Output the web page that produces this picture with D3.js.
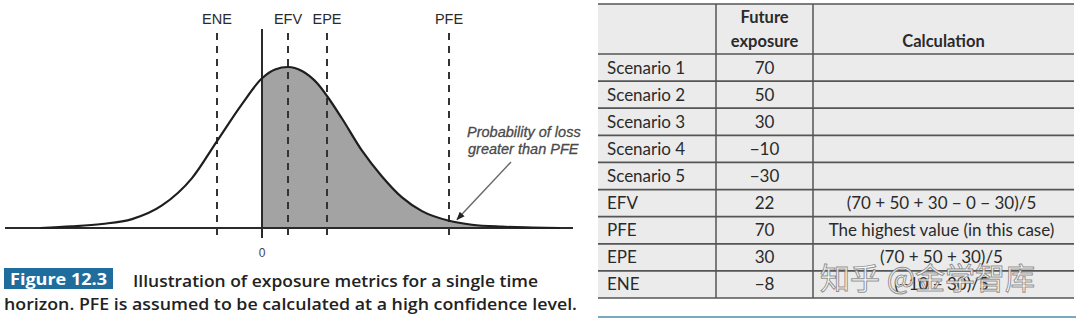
<!DOCTYPE html>
<html>
<head>
<meta charset="utf-8">
<script src="https://cdn.jsdelivr.net/npm/d3@7"></script>
<style>
  body { margin: 0; background: #fff; }
  svg { display: block; }
</style>
</head>
<body>
<svg id="chart" width="1080" height="321"></svg>
<script>
// curve: offset from zero (px-ish units) and height as share of the peak
const curveX = [-222, -190, -160, -130, -100, -70, -45, -20, 0, 13, 26, 40, 55, 65, 80, 100, 120, 140, 160, 187, 210, 240, 270, 298];
const curveY = [0, 0.01, 0.025, 0.055, 0.14, 0.31, 0.54, 0.77, 0.93, 0.985, 1, 0.975, 0.9, 0.82, 0.68, 0.48, 0.32, 0.19, 0.105, 0.045, 0.02, 0.008, 0.003, 0];

const markerNames = ['ENE', 'EFV', 'EPE', 'PFE'];
const markerPos = [-45, 26, 65, 187];

const rowLabels = ['Scenario 1', 'Scenario 2', 'Scenario 3', 'Scenario 4', 'Scenario 5', 'EFV', 'PFE', 'EPE', 'ENE'];
const exposures = [70, 50, 30, -10, -30, 22, 70, 30, -8];
const calcs = ['', '', '', '', '', '(70 + 50 + 30 \u2212 0 \u2212 30)/5', 'The highest value (in this case)', '(70 + 50 + 30)/5', '(\u221210 \u2212 30)/5'];

const svg = d3.select('#chart');
const ink = '#2a2a2a';

// ---- left: distribution ----
const x = d3.scaleLinear().domain([-257, 311]).range([5, 573]);
const y = d3.scaleLinear().domain([0, 1]).range([228, 67]);

const defs = svg.append('defs');
defs.append('clipPath').attr('id', 'leftpanel')
  .append('rect').attr('x', 0).attr('y', 0).attr('width', 581).attr('height', 262);
defs.append('clipPath').attr('id', 'positive')
  .append('rect').attr('x', x(0)).attr('y', 0).attr('width', 600).attr('height', 228);
defs.append('marker').attr('id', 'arrow')
  .attr('viewBox', '0 0 10 10').attr('refX', 9).attr('refY', 5)
  .attr('markerWidth', 6).attr('markerHeight', 6).attr('orient', 'auto')
  .append('path').attr('d', 'M0,1 L10,5 L0,9 z').attr('fill', '#222');

const left = svg.append('g').attr('clip-path', 'url(#leftpanel)');
const pts = curveX.map((v, i) => [v, curveY[i]]);

const area = d3.area().x(d => x(d[0])).y0(y(0)).y1(d => y(d[1])).curve(d3.curveMonotoneX);
const line = d3.line().x(d => x(d[0])).y(d => y(d[1])).curve(d3.curveMonotoneX);

left.append('path').datum(pts).attr('d', area)
  .attr('fill', '#a3a3a3').attr('clip-path', 'url(#positive)');

// baseline
left.append('line').attr('x1', x(-257)).attr('x2', x(311)).attr('y1', y(0)).attr('y2', y(0))
  .attr('stroke', ink).attr('stroke-width', 2);

// zero line
left.append('line').attr('x1', x(0)).attr('x2', x(0)).attr('y1', 29).attr('y2', 238)
  .attr('stroke', ink).attr('stroke-width', 2);
left.append('text').attr('x', x(0)).attr('y', 257).attr('text-anchor', 'middle')
  .attr('font-family', 'Liberation Sans, Arial, sans-serif').attr('font-size', 12).attr('fill', '#444')
  .text('0');

// dashed metric lines
markerPos.forEach((p, i) => {
  left.append('line').attr('x1', x(p)).attr('x2', x(p)).attr('y1', 33).attr('y2', 240)
    .attr('stroke', '#333').attr('stroke-width', 2).attr('stroke-dasharray', '7,6');
  left.append('text').attr('x', x(p)).attr('y', 24).attr('text-anchor', 'middle')
    .attr('font-family', 'Liberation Sans, Arial, sans-serif').attr('font-size', 14.5).attr('fill', ink)
    .text(markerNames[i]);
});

left.append('path').datum(pts).attr('d', line)
  .attr('fill', 'none').attr('stroke', '#1e1e1e').attr('stroke-width', 2.2);

// annotation
const ann = left.append('text').attr('font-family', 'Liberation Sans, Arial, sans-serif')
  .attr('font-style', 'italic').attr('font-size', 14.5).attr('fill', '#4a4a4a')
  .attr('stroke', '#4a4a4a').attr('stroke-width', 0.3);
ann.append('tspan').attr('x', 467).attr('y', 137).text('Probability of loss');
ann.append('tspan').attr('x', 468).attr('y', 154).text('greater than PFE');
left.append('line').attr('x1', 511).attr('y1', 162).attr('x2', x(195)).attr('y2', y(0.04) - 2)
  .attr('stroke', '#666').attr('stroke-width', 1.4).attr('marker-end', 'url(#arrow)');

// caption
svg.append('rect').attr('x', 4).attr('y', 268).attr('width', 109).attr('height', 21).attr('fill', '#1e6d9c');
svg.append('text').attr('x', 10).attr('y', 285).attr('font-family', 'Open Sans, sans-serif')
  .attr('font-weight', 700).attr('font-size', 16).attr('fill', '#fff')
  .attr('textLength', 97).attr('lengthAdjust', 'spacingAndGlyphs').text('Figure 12.3');
svg.append('text').attr('x', 133).attr('y', 287).attr('font-family', 'Open Sans, sans-serif')
  .attr('font-weight', 600).attr('font-size', 17).attr('fill', '#222')
  .attr('textLength', 405).attr('lengthAdjust', 'spacingAndGlyphs')
  .text('Illustration of exposure metrics for a single time');
svg.append('text').attr('x', 4).attr('y', 310).attr('font-family', 'Open Sans, sans-serif')
  .attr('font-weight', 600).attr('font-size', 17).attr('fill', '#222')
  .attr('textLength', 573).attr('lengthAdjust', 'spacingAndGlyphs')
  .text('horizon. PFE is assumed to be calculated at a high confidence level.');

// ---- right: table ----
const tx0 = 598, tx1 = 1074, c1 = 716, c2 = 813;
const tableTop = 4, headBottom = 54;
const rows = d3.scaleBand().domain(rowLabels).range([headBottom, 298]);
const tbl = svg.append('g').attr('font-family', 'Lato, sans-serif').attr('fill', ink);

tbl.append('rect').attr('x', tx0).attr('y', tableTop).attr('width', tx1 - tx0).attr('height', rows.range()[1] - tableTop)
  .attr('fill', '#ebebeb');

const hLines = [tableTop, headBottom].concat(rowLabels.map(r => rows(r) + rows.bandwidth()));
tbl.selectAll('line.h').data(hLines).join('line').attr('class', 'h')
  .attr('x1', tx0).attr('x2', tx1).attr('y1', d => d).attr('y2', d => d)
  .attr('stroke', '#555').attr('stroke-width', 1.7);
tbl.selectAll('line.v').data([c1, c2]).join('line').attr('class', 'v')
  .attr('x1', d => d).attr('x2', d => d).attr('y1', tableTop).attr('y2', rows.range()[1])
  .attr('stroke', '#555').attr('stroke-width', 1.5);

const headSize = 16.5, cellSize = 17;
tbl.append('text').attr('x', (c1 + c2) / 2).attr('y', 23).attr('text-anchor', 'middle')
  .attr('font-weight', 700).attr('font-size', headSize).text('Future');
tbl.append('text').attr('x', (c1 + c2) / 2).attr('y', 47).attr('text-anchor', 'middle')
  .attr('font-weight', 700).attr('font-size', headSize).text('exposure');
tbl.append('text').attr('x', (c2 + tx1) / 2).attr('y', 47).attr('text-anchor', 'middle')
  .attr('font-weight', 700).attr('font-size', headSize).text('Calculation');

const fmt = v => (v < 0 ? '\u2212' + Math.abs(v) : String(v));
rowLabels.forEach((r, i) => {
  const cy = rows(r) + rows.bandwidth() / 2 + 6;
  tbl.append('text').attr('x', 607).attr('y', cy).attr('font-size', cellSize).text(r);
  tbl.append('text').attr('x', (c1 + c2) / 2).attr('y', cy).attr('text-anchor', 'middle')
    .attr('font-size', cellSize).text(fmt(exposures[i]));
  if (calcs[i]) {
    tbl.append('text').attr('x', (c2 + tx1) / 2 - 2).attr('y', cy).attr('text-anchor', 'middle')
      .attr('font-size', cellSize).text(calcs[i]);
  }
});

// bottom rule
svg.append('line').attr('x1', tx0).attr('x2', tx1 + 2).attr('y1', 317).attr('y2', 317)
  .attr('stroke', '#4b8fae').attr('stroke-width', 1.5);

// watermark (sits over the last two rows, as in the source image)
svg.append('text').attr('x', 820).attr('y', 289)
  .attr('font-family', 'Noto Sans CJK SC, sans-serif').attr('font-size', 30)
  .attr('fill', '#fff').attr('fill-opacity', 0.85)
  .attr('stroke', '#666').attr('stroke-width', 1).attr('stroke-opacity', 0.7)
  .text('知乎 @金学智库');
</script>
</body>
</html>
